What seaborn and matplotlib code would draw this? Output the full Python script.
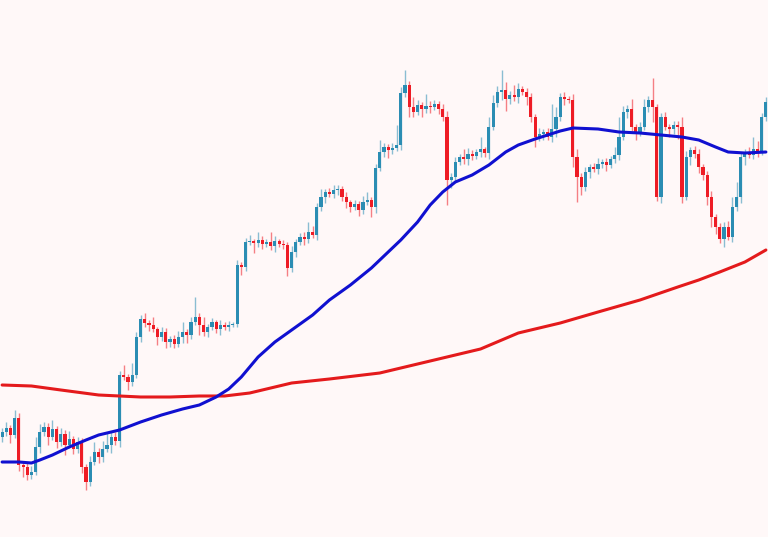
import numpy as np
import pandas as pd
import matplotlib
matplotlib.use("Agg")
import matplotlib.pyplot as plt
import seaborn as sns

# close prices, one per candle (open = previous close)
closes = [105, 109, 102, 119, 72, 70, 62, 65, 90, 105, 110,
          100, 108, 95, 103, 92, 98, 88, 95, 70, 55,
          75, 85, 80, 88, 92, 100, 96, 162, 160, 155, 162,
          200, 218, 214, 212, 208, 200, 205, 195, 198,
          193, 200, 205, 202, 215, 220, 212, 205, 210, 215, 208, 212,
          210, 212, 213, 272, 270, 295,
          296, 294, 297, 293, 295, 291, 296, 293, 292, 269,
          285, 295, 300, 298, 305, 302, 330,
          340, 345, 343, 347, 348, 340, 335, 330, 333, 327, 335,
          337, 330, 369, 385, 390, 387, 389, 392, 444, 452,
          430, 425, 432, 428, 431, 430, 433, 428, 420, 357,
          360, 375, 380, 378, 383, 381, 385, 388, 384, 410, 434,
          445, 447, 438, 442, 440, 448, 445, 440, 420, 400,
          403, 405, 400, 408, 420, 440, 438, 437, 380, 360, 350,
          365, 370, 368, 373, 375, 372, 378, 382, 400, 425, 428,
          410, 405, 410, 430, 437, 430, 340, 420, 410, 408, 412, 410,
          340, 380, 387, 383, 370, 362, 340, 320, 310, 298,
          310, 300, 330, 340, 380, 385, 382, 388, 385, 420, 435]
first_open = 100

upper_wick = [4, 6, 3, 8, 5, 3, 4, 6, 10, 8, 5, 4, 9, 3, 6, 4, 8, 3, 5, 4, 3,
              6, 10, 4, 8, 12, 6, 5, 4, 10, 3, 12, 5, 4, 6, 3, 8, 2, 5, 4, 3,
              4, 6, 10, 3, 5, 20, 4, 8, 3, 4, 2, 5, 3, 4, 2, 5, 3, 4,
              6, 2, 8, 4, 3, 10, 5, 2, 4, 3, 6, 3, 4, 5, 10, 6, 4,
              8, 3, 4, 5, 4, 3, 5, 2, 4, 3, 6, 8, 3, 4, 12, 4, 3, 5, 20, 6, 15,
              4, 10, 5, 3, 12, 5, 4, 3, 5, 6, 4, 5, 3, 8, 6, 4, 3, 12, 2, 10, 8,
              6, 20, 8, 4, 10, 6, 3, 4, 4, 3, 6, 3, 4, 25, 10, 4, 5, 3, 6, 8, 4,
              5, 3, 4, 6, 3, 4, 3, 8, 20, 6, 4, 10, 3, 5, 8, 4, 22, 3, 4, 5, 3, 4,
              4, 10, 6, 3, 4, 5, 3, 4, 6, 3, 4, 5, 6, 10, 15, 4, 3, 5, 12, 8, 4,
              5, 3, 6, 4, 8, 3, 5, 4, 6, 3, 4, 5, 3, 6, 4, 5, 3, 4, 6, 3]
lower_wick = [5, 4, 8, 3, 6, 10, 5, 4, 3, 6, 4, 8, 3, 6, 4, 10, 3, 5, 4, 6, 8,
              4, 3, 6, 5, 3, 8, 4, 6, 3, 8, 4, 3, 5, 4, 6, 3, 8, 4, 6, 5,
              4, 3, 6, 8, 4, 3, 10, 4, 5, 3, 4, 6, 3, 4, 2, 3, 8, 4,
              3, 10, 4, 5, 3, 4, 6, 3, 4, 8, 4, 5, 3, 6, 4, 3, 5,
              4, 6, 3, 4, 5, 4, 6, 5, 3, 6, 4, 3, 10, 6, 3, 5, 8, 4, 3, 5, 4,
              10, 5, 3, 8, 4, 6, 3, 5, 4, 25, 8, 4, 3, 5, 6, 4, 3, 5, 4, 6, 3,
              4, 8, 12, 5, 4, 6, 3, 8, 5, 10, 4, 6, 3, 5, 8, 4, 6, 3, 10, 25, 8,
              4, 6, 3, 5, 4, 6, 3, 4, 5, 3, 6, 4, 8, 4, 3, 5, 15, 4, 6, 3, 8, 5,
              12, 6, 3, 8, 4, 6, 5, 8, 10, 7, 4, 8, 3, 5, 4, 6, 8, 3, 4, 5, 3,
              4, 6, 3, 5, 4, 8, 3, 6, 4, 5, 3, 4, 6, 5, 3, 4, 8, 4, 3, 5]

# moving averages sampled at candle indices
ma_idx = [0, 4, 7, 9, 12, 16, 20, 23, 26, 28, 33, 38, 43, 47, 51, 54, 57,
          59, 61, 65, 69, 74, 78, 83, 88, 92, 95, 99, 102, 105, 108, 112,
          116, 120, 123, 127, 130, 133, 136, 142, 147, 152, 157, 162, 166,
          170, 173, 177, 182]
ma_fast = [75, 75, 74, 77, 82, 90, 97, 102, 105, 107, 115, 122, 128, 132,
           140, 148, 160, 170, 180, 195, 207, 222, 237, 252, 269, 285, 297,
           315, 332, 345, 355, 362, 372, 385, 392, 398, 402, 406, 409, 408,
           405, 404, 402, 400, 397, 390, 385, 384, 385]
ma_slow_idx = [0, 7, 14, 23, 33, 40, 47, 53, 59, 64, 69, 78, 90, 100, 107,
               114, 123, 128, 133, 142, 152, 161, 166, 171, 177, 182]
ma_slow = [152, 151, 147, 142, 140, 140, 141, 141, 144, 149, 154, 158, 164,
           174, 181, 188, 204, 209, 214, 225, 237, 250, 257, 265, 275, 287]

sns.set_style("white")
fig = plt.figure(figsize=(7.68, 5.37), dpi=100)
fig.patch.set_facecolor("#fff8f8")
ax = fig.add_axes([0, 0, 1, 1])
ax.set_facecolor("#fff8f8")

up_col = "#2b8db3"
dn_col = "#ee1c25"
opens = [first_open] + closes[:-1]
for i, (o, c) in enumerate(zip(opens, closes)):
    col = up_col if c >= o else dn_col
    hi = max(o, c) + upper_wick[i]
    lo = min(o, c) - lower_wick[i]
    ax.vlines(i, lo, hi, color=col, alpha=0.55, linewidth=1.0, zorder=2)
    h = max(abs(c - o), 1.5)
    ax.bar(i, h, bottom=min(o, c), width=0.75, color=col, linewidth=0, zorder=3)

sns.lineplot(x=ma_slow_idx, y=ma_slow, ax=ax, color="#e41a1c", linewidth=2.2, zorder=4)
sns.lineplot(x=ma_idx, y=ma_fast, ax=ax, color="#1010d0", linewidth=2.2, zorder=5)

ax.set_xlim(-0.5, len(closes) - 0.5)
ax.set_ylim(0, 537)
ax.axis("off")
fig.savefig("out.png", dpi=100, facecolor=fig.get_facecolor())
